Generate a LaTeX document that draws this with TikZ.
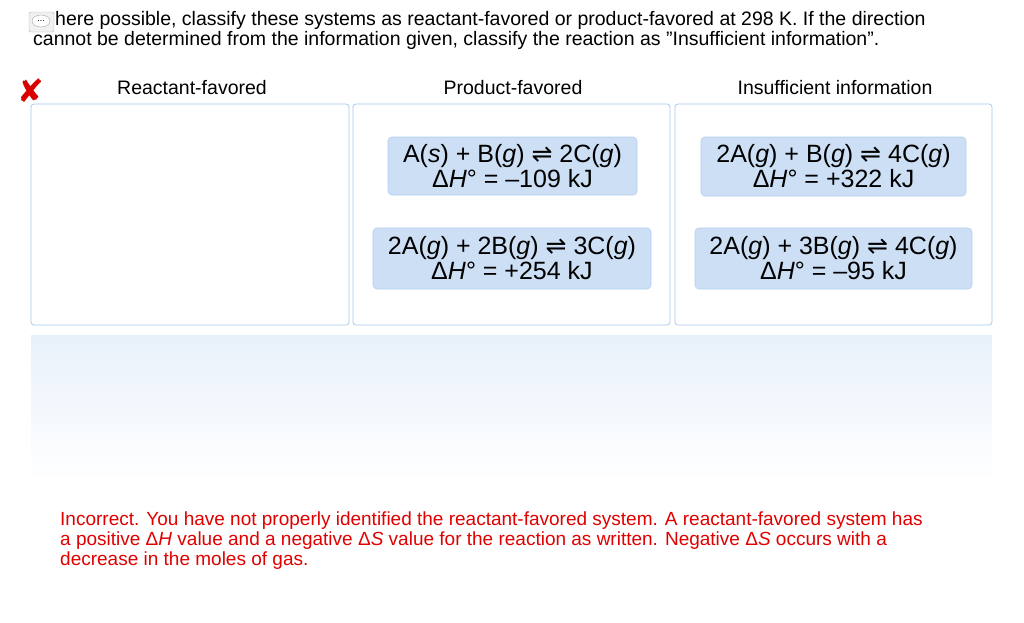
\documentclass[tikz,border=0pt]{standalone}
\usepackage{fontspec}
\usetikzlibrary{shapes.geometric}
\setmainfont{Liberation Sans}
\newfontfamily\dv{DejaVu Sans}
\definecolor{colb}{HTML}{A9C9EE}
\definecolor{eqf}{HTML}{CCDFF5}
\definecolor{eqd}{HTML}{B5D0F0}
\definecolor{fbc}{HTML}{E00000}
\begin{document}
\begin{tikzpicture}[x=1pt,y=-1pt,
  col/.style={draw=colb, rounded corners=3pt, line width=0.8pt},
  eqbox/.style={fill=eqf, draw=eqd, rounded corners=4pt, line width=0.6pt},
  eqtxt/.style={align=center, font=\fontsize{25}{25}\selectfont, inner sep=0pt},
  hdr/.style={font=\fontsize{19.5}{20}\selectfont, inner sep=0pt}]
\useasboundingbox (0,0) rectangle (1024,622);
\fill[white] (0,0) rectangle (1024,622);
% header
\node[hdr, anchor=west, align=left] (q) at (33,30) {\hspace{22pt}here possible, classify these systems as reactant-favored or product-favored at 298 K. If the direction\\cannot be determined from the information given, classify the reaction as \symbol{34}Insufficient information\symbol{34}.};
\draw[gray!60, fill=gray!12, rounded corners=2pt] (29,12) rectangle (54,32);
\node[draw=gray!70, fill=white, ellipse, minimum width=18pt, minimum height=12pt, inner sep=0pt, font=\fontsize{9}{9}\selectfont] (ic) at (41,21) {...};
% red X
\node[text=red!85!black, font=\fontsize{32}{32}\selectfont\bfseries, inner sep=0pt] (x) at (31,91) {\dv ✘};
% column headers
\node[hdr] (h1) at (192,88) {Reactant-favored};
\node[hdr] (h2) at (513,88) {Product-favored};
\node[hdr] (h3) at (835,88) {Insufficient information};
% columns
\draw[col] (31,104) rectangle (349,325);
\draw[col] (353,104) rectangle (670,325);
\draw[col] (675,104) rectangle (992,325);
% eq boxes
\draw[eqbox] (388,137) rectangle (637,195);
\draw[eqbox] (373,228) rectangle (651,289);
\draw[eqbox] (701,137) rectangle (966,196);
\draw[eqbox] (695,228) rectangle (972,289);
\node[eqtxt] (e1) at (512.5,166) {A(\textit{s}) + B(\textit{g}) {\dv ⇌} 2C(\textit{g})\\Δ\textit{H}° = –109 kJ};
\node[eqtxt] (e2) at (512,258) {2A(\textit{g}) + 2B(\textit{g}) {\dv ⇌} 3C(\textit{g})\\Δ\textit{H}° = +254 kJ};
\node[eqtxt] (e3) at (833.5,166) {2A(\textit{g}) + B(\textit{g}) {\dv ⇌} 4C(\textit{g})\\Δ\textit{H}° = +322 kJ};
\node[eqtxt] (e4) at (833.5,258) {2A(\textit{g}) + 3B(\textit{g}) {\dv ⇌} 4C(\textit{g})\\Δ\textit{H}° = –95 kJ};
% feedback gradient
\shade[top color=eqf!45, bottom color=white] (31,335) rectangle (992,480);
\node[anchor=north west, align=left, text=fbc, font=\fontsize{19}{20}\selectfont, inner sep=0pt] (fb) at (60,512) {Incorrect. You have not properly identified the reactant-favored system. A reactant-favored system has\\a positive Δ\textit{H} value and a negative Δ\textit{S} value for the reaction as written. Negative Δ\textit{S} occurs with a\\decrease in the moles of gas.};
\end{tikzpicture}
\end{document}
